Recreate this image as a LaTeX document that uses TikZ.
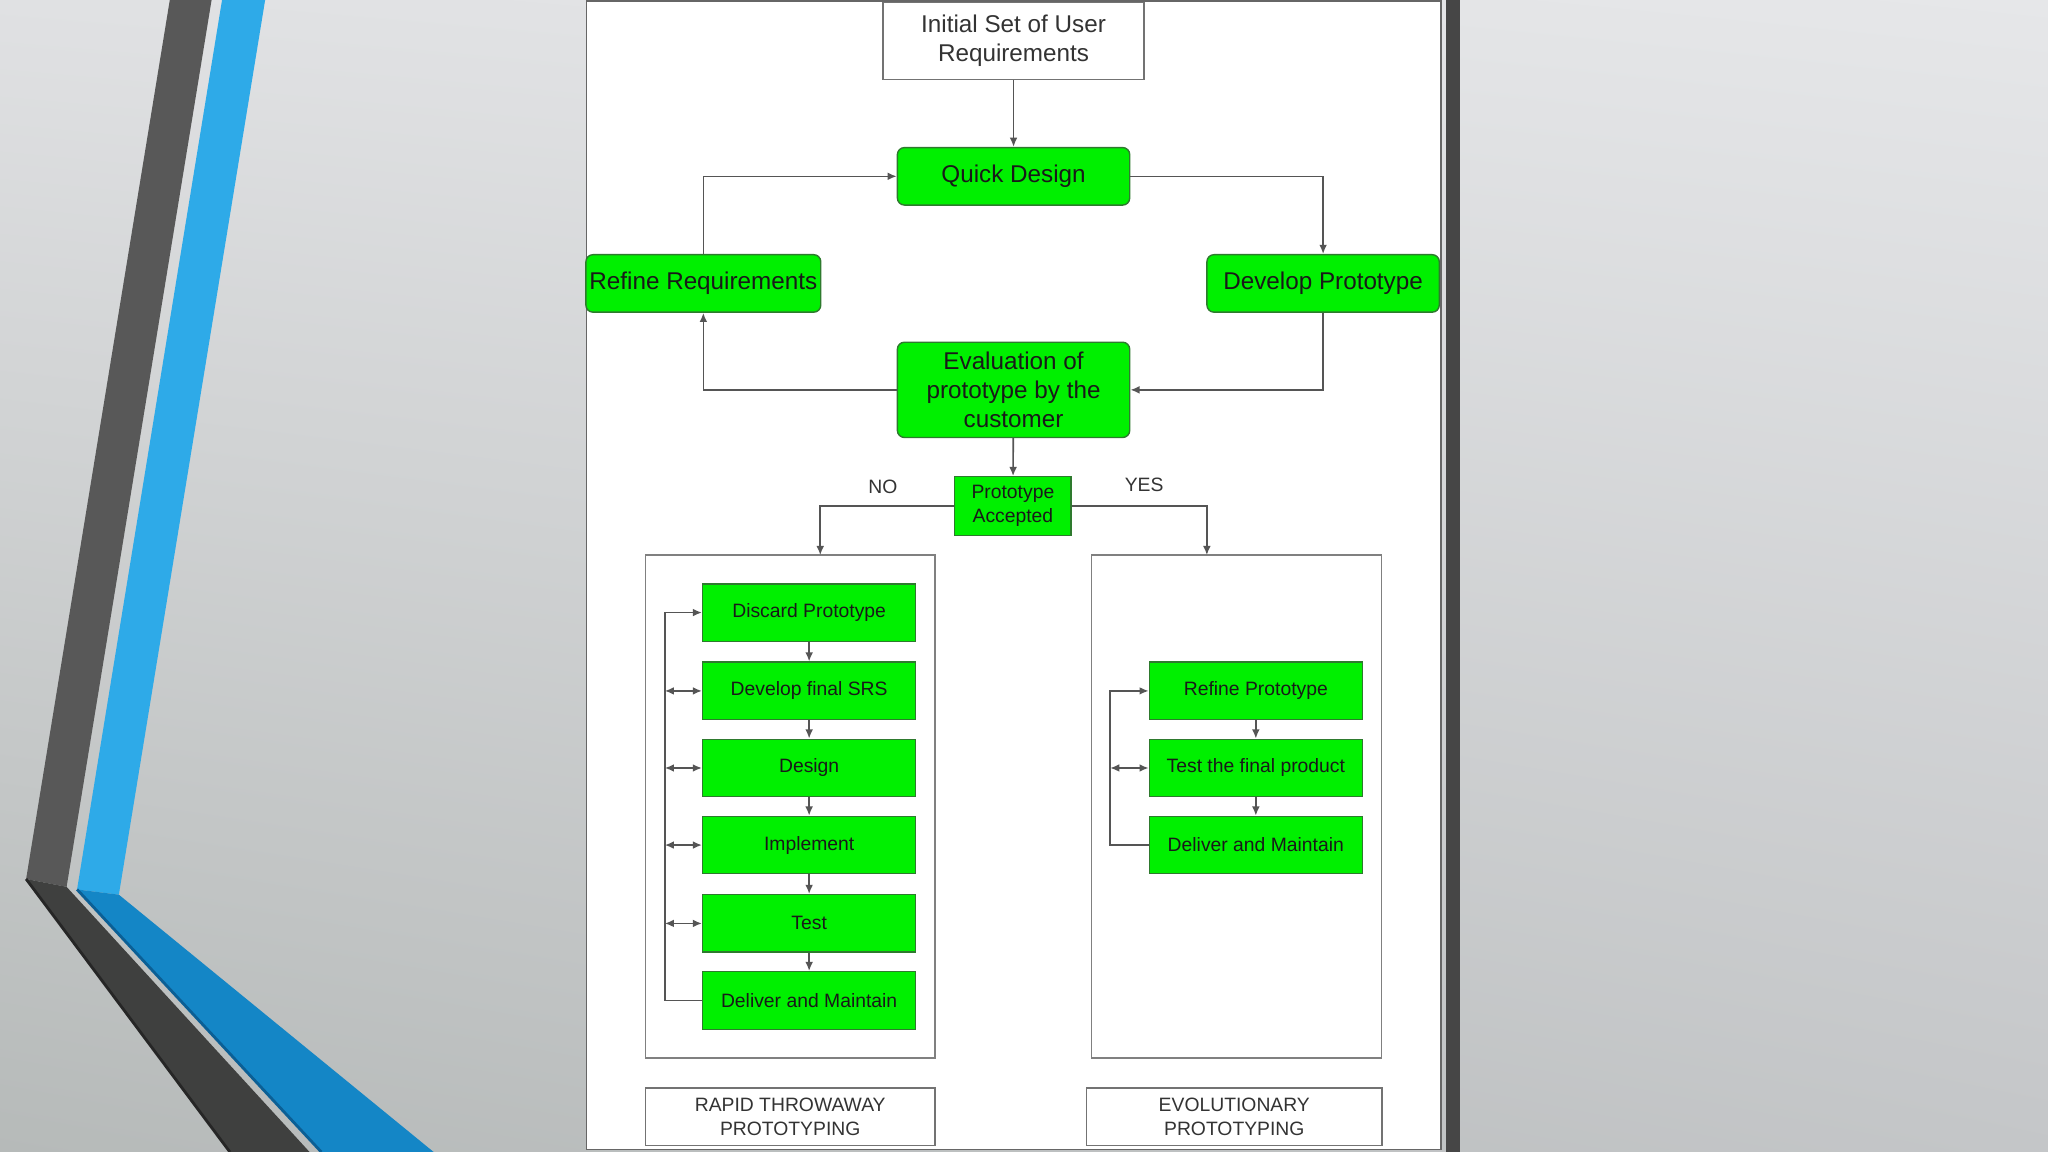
\documentclass[tikz,border=0pt]{standalone}
\usepackage{fontspec}
\setmainfont{Liberation Sans}
\usetikzlibrary{arrows.meta,shadings}
\definecolor{protogreen}{HTML}{00F000}
\definecolor{greenedge}{HTML}{2E7A2E}
\definecolor{linegray}{HTML}{555555}
\definecolor{textgray}{HTML}{333333}
\definecolor{bgtl}{HTML}{E0E1E3}
\definecolor{bgtr}{HTML}{E6E7E9}
\definecolor{bgbl}{HTML}{B6BAB9}
\definecolor{bgbr}{HTML}{C4C6C8}
\definecolor{stripegray}{HTML}{585858}
\definecolor{stripedark}{HTML}{3F403F}
\definecolor{stripeblue}{HTML}{2EAAE8}
\definecolor{stripedeep}{HTML}{1486C6}
\definecolor{stripeedge}{HTML}{0B5F95}
\definecolor{bardark}{HTML}{464646}
\newcommand\flowfont{\fontsize{6.9}{8.2}\selectfont}
\newcommand\stepfont{\fontsize{5.5}{6.7}\selectfont}
\tikzset{
  roundgreen/.style={draw=greenedge, fill=protogreen, rounded corners=2pt, line width=0.4pt,
    minimum width=66.1pt, minimum height=16.35pt, inner sep=1pt, align=center,
    font=\flowfont, text=black!90},
  stepgreen/.style={draw=greenedge, fill=protogreen, line width=0.4pt,
    minimum width=60.6pt, minimum height=16.35pt, inner sep=1pt, align=center,
    font=\stepfont, text=black!90},
  whitebox/.style={draw=black!55, fill=white, line width=0.4pt, inner sep=1pt,
    align=center, text=textgray},
  framebox/.style={draw=black!50, line width=0.4pt, minimum width=82.5pt, minimum height=143.1pt},
  labeltext/.style={font=\stepfont, text=textgray},
  link/.style={draw=linegray, line width=0.45pt, -{Latex[length=2.6pt,width=2.2pt]}},
  dlink/.style={draw=linegray, line width=0.45pt, {Latex[length=2.6pt,width=2.2pt]}-{Latex[length=2.6pt,width=2.2pt]}}
}
\begin{document}
\begin{tikzpicture}[x=0.3716pt,y=-0.3716pt]
\useasboundingbox (0,0) rectangle (1568,882);
% slide background
\shade[upper left=bgtl, upper right=bgtr, lower left=bgbl, lower right=bgbr] (0,0) rectangle (1568,882);
\fill[stripegray] (130,0) -- (162,0) -- (51,679) -- (20,673) -- cycle;
\fill[stripedark] (20,673) -- (51,679) -- (237,882) -- (176,882) -- cycle;
\draw[black!85, line width=0.8pt] (20,673) -- (176,882);
\fill[stripeblue] (170,0) -- (203,0) -- (91,685) -- (59,681) -- cycle;
\fill[stripedeep] (59,681) -- (91,685) -- (332,882) -- (246,882) -- cycle;
\draw[stripeedge, line width=0.8pt] (59,681) -- (246,882);
\draw[black!60, fill=white, line width=0.5pt] (449,1) rectangle (1103,880);
\fill[bardark] (1107,0) rectangle (1118,882);

% prototype cycle
\node[whitebox, font=\flowfont, minimum width=74.3pt, minimum height=21.9pt] (init) at (776,31.5) {Initial Set of User\\Requirements};
\node[roundgreen] (quick) at (776,135) {Quick Design};
\node[roundgreen] (refine) at (538.5,217) {Refine Requirements};
\node[roundgreen] (develop) at (1013,217) {Develop Prototype};
\node[roundgreen, minimum height=27.1pt] (eval) at (776,298.5) {Evaluation of\\prototype by the\\customer};
\node[stepgreen, minimum width=33.1pt, minimum height=16.7pt] (accepted) at (775.5,387.5) {Prototype\\Accepted};
\node[labeltext] (no) at (676,373) {NO};
\node[labeltext] (yes) at (876,371) {YES};

\draw[link] (init) -- (quick);
\draw[link] (quick) -| (develop);
\draw[link] (develop) |- (eval);
\draw[link] (eval) -| (refine);
\draw[link] (refine) |- (quick);
\draw[link] (eval) -- (accepted);

% two branches
\node[framebox] (rapid) at (605,617.5) {};
\node[framebox] (evol) at (946.5,617.5) {};
\coordinate (noin) at (628,425);
\coordinate (yesin) at (924,425);
\draw[link] (accepted) -| (noin);
\draw[link] (accepted) -| (yesin);

\node[stepgreen] (discard) at (619.5,469) {Discard Prototype};
\node[stepgreen] (srs) at (619.5,529) {Develop final SRS};
\node[stepgreen] (design) at (619.5,588) {Design};
\node[stepgreen] (impl) at (619.5,647) {Implement};
\node[stepgreen] (test) at (619.5,707) {Test};
\node[stepgreen] (deliver) at (619.5,766) {Deliver and Maintain};
\draw[link] (discard) -- (srs);
\draw[link] (srs) -- (design);
\draw[link] (design) -- (impl);
\draw[link] (impl) -- (test);
\draw[link] (test) -- (deliver);
\coordinate (lrail) at (509,469);
\draw[link] (deliver.west) -- (deliver.west -| lrail) |- (discard.west);
\draw[dlink] (srs.west -| lrail) -- (srs.west);
\draw[dlink] (design.west -| lrail) -- (design.west);
\draw[dlink] (impl.west -| lrail) -- (impl.west);
\draw[dlink] (test.west -| lrail) -- (test.west);

\node[stepgreen] (refproto) at (961.5,529) {Refine Prototype};
\node[stepgreen] (testfinal) at (961.5,588) {Test the final product};
\node[stepgreen] (evdeliver) at (961.5,647) {Deliver and Maintain};
\draw[link] (refproto) -- (testfinal);
\draw[link] (testfinal) -- (evdeliver);
\coordinate (rrail) at (850,529);
\draw[link] (evdeliver.west) -- (evdeliver.west -| rrail) |- (refproto.west);
\draw[dlink] (testfinal.west -| rrail) -- (testfinal.west);

\node[whitebox, font=\stepfont, minimum width=82.5pt, minimum height=16.35pt] (rapidlabel) at (605,855) {RAPID THROWAWAY\\PROTOTYPING};
\node[whitebox, font=\stepfont, minimum width=84pt, minimum height=16.35pt] (evollabel) at (945,855) {EVOLUTIONARY\\PROTOTYPING};
\end{tikzpicture}
\end{document}
